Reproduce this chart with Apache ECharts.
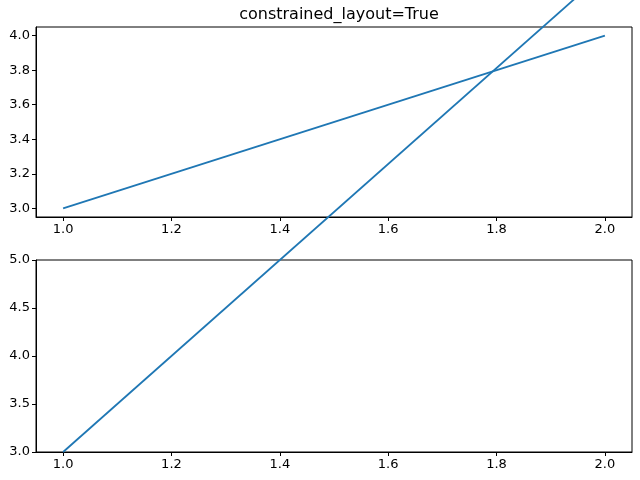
<!DOCTYPE html>
<html><head><meta charset="utf-8">
<script src="https://cdn.jsdelivr.net/npm/echarts@6/dist/echarts.min.js"></script>
<style>html,body{margin:0;padding:0;background:#fff}#c{width:640px;height:480px}</style>
</head><body><div id="c"></div>
<script>
const topX = [1, 2];
const topY = [3, 4];
const botX = [1, 2];
const botY = [3, 8];
const xTicks = [1.0, 1.2, 1.4, 1.6, 1.8, 2.0];
const topYTicks = [3.0, 3.2, 3.4, 3.6, 3.8, 4.0];
const botYTicks = [3.0, 3.5, 4.0, 4.5, 5.0];
const titleText = 'constrained_layout=True';

const font = {fontFamily: 'DejaVu Sans', fontSize: 13, color: '#000'};
function xAxis(i) {
  return {type: 'value', gridIndex: i, min: 0.95, max: 2.05,
    axisLine: {show: true, lineStyle: {color: '#000'}},
    axisTick: {show: true, length: 4, customValues: xTicks, lineStyle: {color: '#000'}},
    axisLabel: Object.assign({customValues: xTicks, formatter: v => v.toFixed(1), margin: 6}, font),
    splitLine: {show: false}};
}
function yAxis(i, min, max, ticks) {
  return {type: 'value', gridIndex: i, min: min, max: max,
    axisLine: {show: true, lineStyle: {color: '#000'}},
    axisTick: {show: true, length: 4, customValues: ticks, lineStyle: {color: '#000'}},
    axisLabel: Object.assign({customValues: ticks, formatter: v => v.toFixed(1), margin: 6}, font),
    splitLine: {show: false}};
}
const chart = echarts.init(document.getElementById('c'));
chart.setOption({
  animation: false,
  title: {text: titleText, left: 334, top: 2, textAlign: 'center',
    textStyle: {fontFamily: 'DejaVu Sans', fontSize: 16, fontWeight: 'normal', color: '#000'}},
  grid: [
    {left: 36, right: 8, top: 27, height: 190, show: true, borderColor: '#000', borderWidth: 1},
    {left: 36, right: 8, top: 260, height: 192, show: true, borderColor: '#000', borderWidth: 1}
  ],
  xAxis: [xAxis(0), xAxis(1)],
  yAxis: [yAxis(0, 2.95, 4.05, topYTicks), yAxis(1, 3, 5, botYTicks)],
  series: [
    {type: 'line', xAxisIndex: 0, yAxisIndex: 0, data: topX.map((x, i) => [x, topY[i]]),
      showSymbol: false, lineStyle: {color: '#1f77b4', width: 1.8}, z: 5},
    {type: 'line', xAxisIndex: 1, yAxisIndex: 1, data: botX.map((x, i) => [x, botY[i]]),
      showSymbol: false, clip: false, lineStyle: {color: '#1f77b4', width: 1.8}, z: 5}
  ]
});
</script></body></html>
